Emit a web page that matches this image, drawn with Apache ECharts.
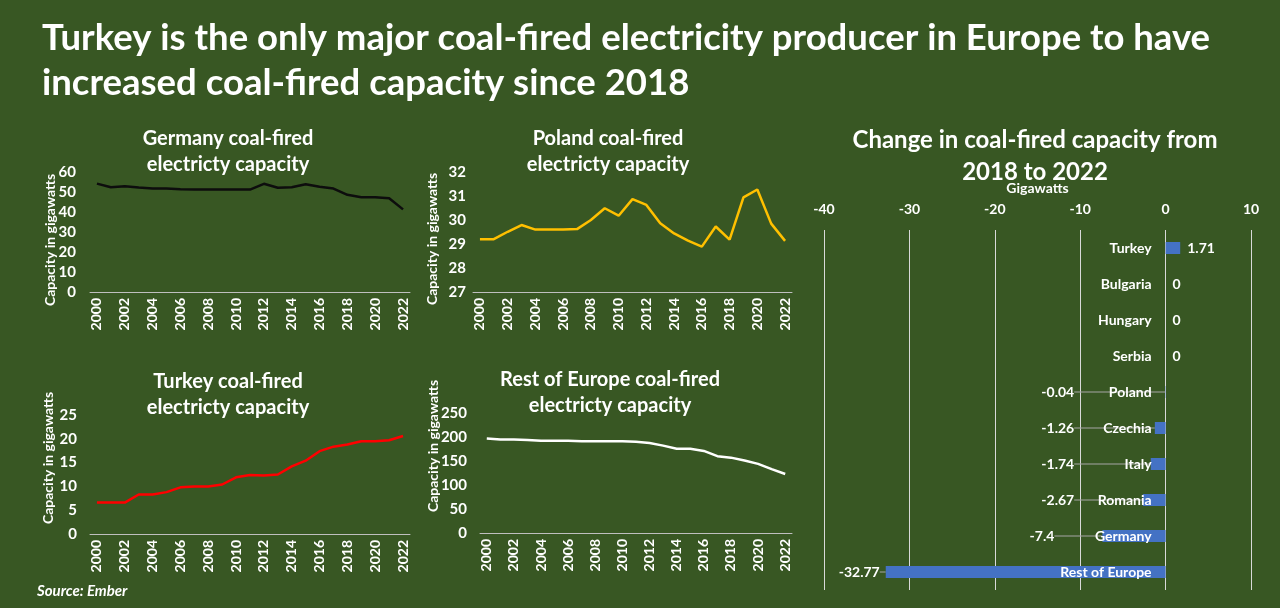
<!DOCTYPE html>
<html><head><meta charset="utf-8">
<script src="https://cdn.jsdelivr.net/npm/echarts@6/dist/echarts.min.js"></script>
<style>html,body{margin:0;padding:0;background:#385723}#c{width:1280px;height:608px}</style>
</head><body><div id="c"></div>
<script>
const years = ['2000','2001','2002','2003','2004','2005','2006','2007','2008','2009','2010','2011','2012','2013','2014','2015','2016','2017','2018','2019','2020','2021','2022'];
const germany = [54.2,52.4,52.9,52.2,51.7,51.7,51.4,51.2,51.2,51.2,51.2,51.2,54.1,52.1,52.4,53.9,52.6,51.7,48.6,47.4,47.4,46.9,41.3];
const poland = [29.2,29.2,29.51,29.79,29.6,29.6,29.6,29.62,30.0,30.49,30.18,30.87,30.63,29.86,29.44,29.14,28.89,29.73,29.18,30.94,31.27,29.85,29.13];
const turkey = [6.6,6.6,6.6,8.3,8.3,8.8,9.8,10.0,10.0,10.4,11.9,12.4,12.3,12.5,14.2,15.4,17.4,18.35,18.8,19.5,19.5,19.7,20.6];
const restOfEurope = [197,195,195,194,192,192,192,191,191,191,191,190,187.5,182,175.7,175.7,171,160,157,151,144,133,123];
const changeCategories = ['Turkey','Bulgaria','Hungary','Serbia','Poland','Czechia','Italy','Romania','Germany','Rest of Europe'];
const changeValues = [1.71,0,0,0,-0.04,-1.26,-1.74,-2.67,-7.4,-32.77];
const changeMin = -40, changeMax = 10, changeStep = 10;

const FONT = 'Lato';
const WHITE = '#ffffff';
const chart = echarts.init(document.getElementById('c'), null, {renderer: 'canvas'});

const barGrid = {left: 824, top: 230, width: 427, height: 360, outerBoundsMode: 'none'};
// place the category axis on the zero line of the value axis
const zeroOffset = -barGrid.width * (0 - changeMin) / (changeMax - changeMin);

function lineX(gi) {
  return {
    gridIndex: gi, type: 'category', data: years, boundaryGap: true,
    axisLine: {show: true, lineStyle: {color: '#bfbfbf', width: 1}},
    axisTick: {show: false},
    axisLabel: {rotate: 90, interval: 1, margin: 6, color: WHITE, fontFamily: FONT, fontWeight: 'bold', fontSize: 14}
  };
}
function lineY(gi, min, max, interval, margin) {
  return {
    gridIndex: gi, type: 'value', min: min, max: max, interval: interval,
    axisLine: {show: false}, axisTick: {show: false}, splitLine: {show: false},
    axisLabel: {margin: margin, color: WHITE, fontFamily: FONT, fontWeight: 'bold', fontSize: 15}
  };
}
function lineS(gi, data, color) {
  return {type: 'line', xAxisIndex: gi, yAxisIndex: gi, data: data, showSymbol: false,
    lineStyle: {color: color, width: 2.5}, itemStyle: {color: color}};
}
function txt(x, y, text, size, opts) {
  return {
    type: 'text', x: x, y: y,
    style: Object.assign({text: text, fill: WHITE, fontFamily: FONT, fontWeight: 'bold', fontSize: size,
      textAlign: 'center', textVerticalAlign: 'middle'}, opts || {})
  };
}
function vtxt(x, y, text) {
  const t = txt(x, y, text, 14);
  t.rotation = Math.PI / 2;
  return t;
}

const option = {
  backgroundColor: '#385723',
  animation: false,
  grid: [
    {left: 90, top: 172, width: 320, height: 120, outerBoundsMode: 'none'},
    {left: 473, top: 172, width: 319, height: 120, outerBoundsMode: 'none'},
    {left: 90, top: 415, width: 320, height: 119, outerBoundsMode: 'none'},
    {left: 480, top: 413, width: 312, height: 120, outerBoundsMode: 'none'},
    barGrid
  ],
  xAxis: [
    lineX(0), lineX(1), lineX(2), lineX(3),
    {
      gridIndex: 4, type: 'value', position: 'top', min: changeMin, max: changeMax, interval: changeStep,
      name: 'Gigawatts', nameLocation: 'middle', nameGap: 35,
      nameTextStyle: {color: WHITE, fontFamily: FONT, fontWeight: 'bold', fontSize: 14},
      axisLine: {show: false}, axisTick: {show: false},
      axisLabel: {margin: 14, color: WHITE, fontFamily: FONT, fontWeight: 'bold', fontSize: 14},
      splitLine: {show: true, lineStyle: {color: '#d9d9d9', width: 1}}
    }
  ],
  yAxis: [
    lineY(0, 0, 60, 10, 14),
    lineY(1, 27, 32, 1, 7),
    lineY(2, 0, 25, 5, 13),
    lineY(3, 0, 250, 50, 13),
    {
      gridIndex: 4, type: 'category', data: changeCategories, inverse: true, z: 5,
      position: 'left', offset: zeroOffset,
      axisLine: {show: false}, axisTick: {show: false}, splitLine: {show: false},
      axisLabel: {margin: 14, color: WHITE, fontFamily: FONT, fontWeight: 'bold', fontSize: 14}
    }
  ],
  series: [
    lineS(0, germany, '#0d0d0d'),
    lineS(1, poland, '#ffc000'),
    lineS(2, turkey, '#ff0000'),
    lineS(3, restOfEurope, '#ffffff'),
    {
      type: 'bar', xAxisIndex: 4, yAxisIndex: 4, barWidth: 12,
      data: changeValues.map(v => ({value: v, labelLine: {show: v < 0}})),
      itemStyle: {color: '#4472c4'},
      label: {show: true, position: 'right', color: WHITE, fontFamily: FONT, fontWeight: 'bold', fontSize: 14},
      labelLine: {show: true, lineStyle: {color: '#a6a6a6', width: 1}},
      labelLayout: function (p) {
        const v = changeValues[p.dataIndex];
        const cy = p.rect.y + p.rect.height / 2;
        if (v >= 0) {
          return {x: p.rect.x + p.rect.width + 7, y: cy, align: 'left', verticalAlign: 'middle'};
        }
        const m10 = chart.convertToPixel({xAxisIndex: 4}, -10);
        let right;
        if (v < -10) {
          right = p.rect.x - 6;
        } else {
          right = Math.min(p.rect.x - 48, m10 - 6);
        }
        return {x: right, y: cy, align: 'right', verticalAlign: 'middle'};
      }
    }
  ],
  graphic: [
    txt(42, 60.5, 'Turkey is the only major coal-fired electricity producer in Europe to have\nincreased coal-fired capacity since 2018', 36.5, {textAlign: 'left', lineHeight: 45}),
    txt(228, 152, 'Germany coal-fired\nelectricty capacity', 20, {lineHeight: 26}),
    txt(608, 152, 'Poland coal-fired\nelectricty capacity', 20, {lineHeight: 26}),
    txt(228, 395, 'Turkey coal-fired\nelectricty capacity', 20, {lineHeight: 26}),
    txt(610, 393, 'Rest of Europe coal-fired\nelectricty capacity', 20, {lineHeight: 26}),
    txt(1035, 156, 'Change in coal-fired capacity from\n2018 to 2022', 24, {lineHeight: 32}),
    vtxt(50, 240, 'Capacity in gigawatts'),
    vtxt(432, 239, 'Capacity in gigawatts'),
    vtxt(48, 458, 'Capacity in gigawatts'),
    vtxt(433, 446, 'Capacity in gigawatts'),
    txt(37, 591, 'Source: Ember', 15, {textAlign: 'left', fontStyle: 'italic'})
  ]
};
chart.setOption(option);
</script>
</body></html>
